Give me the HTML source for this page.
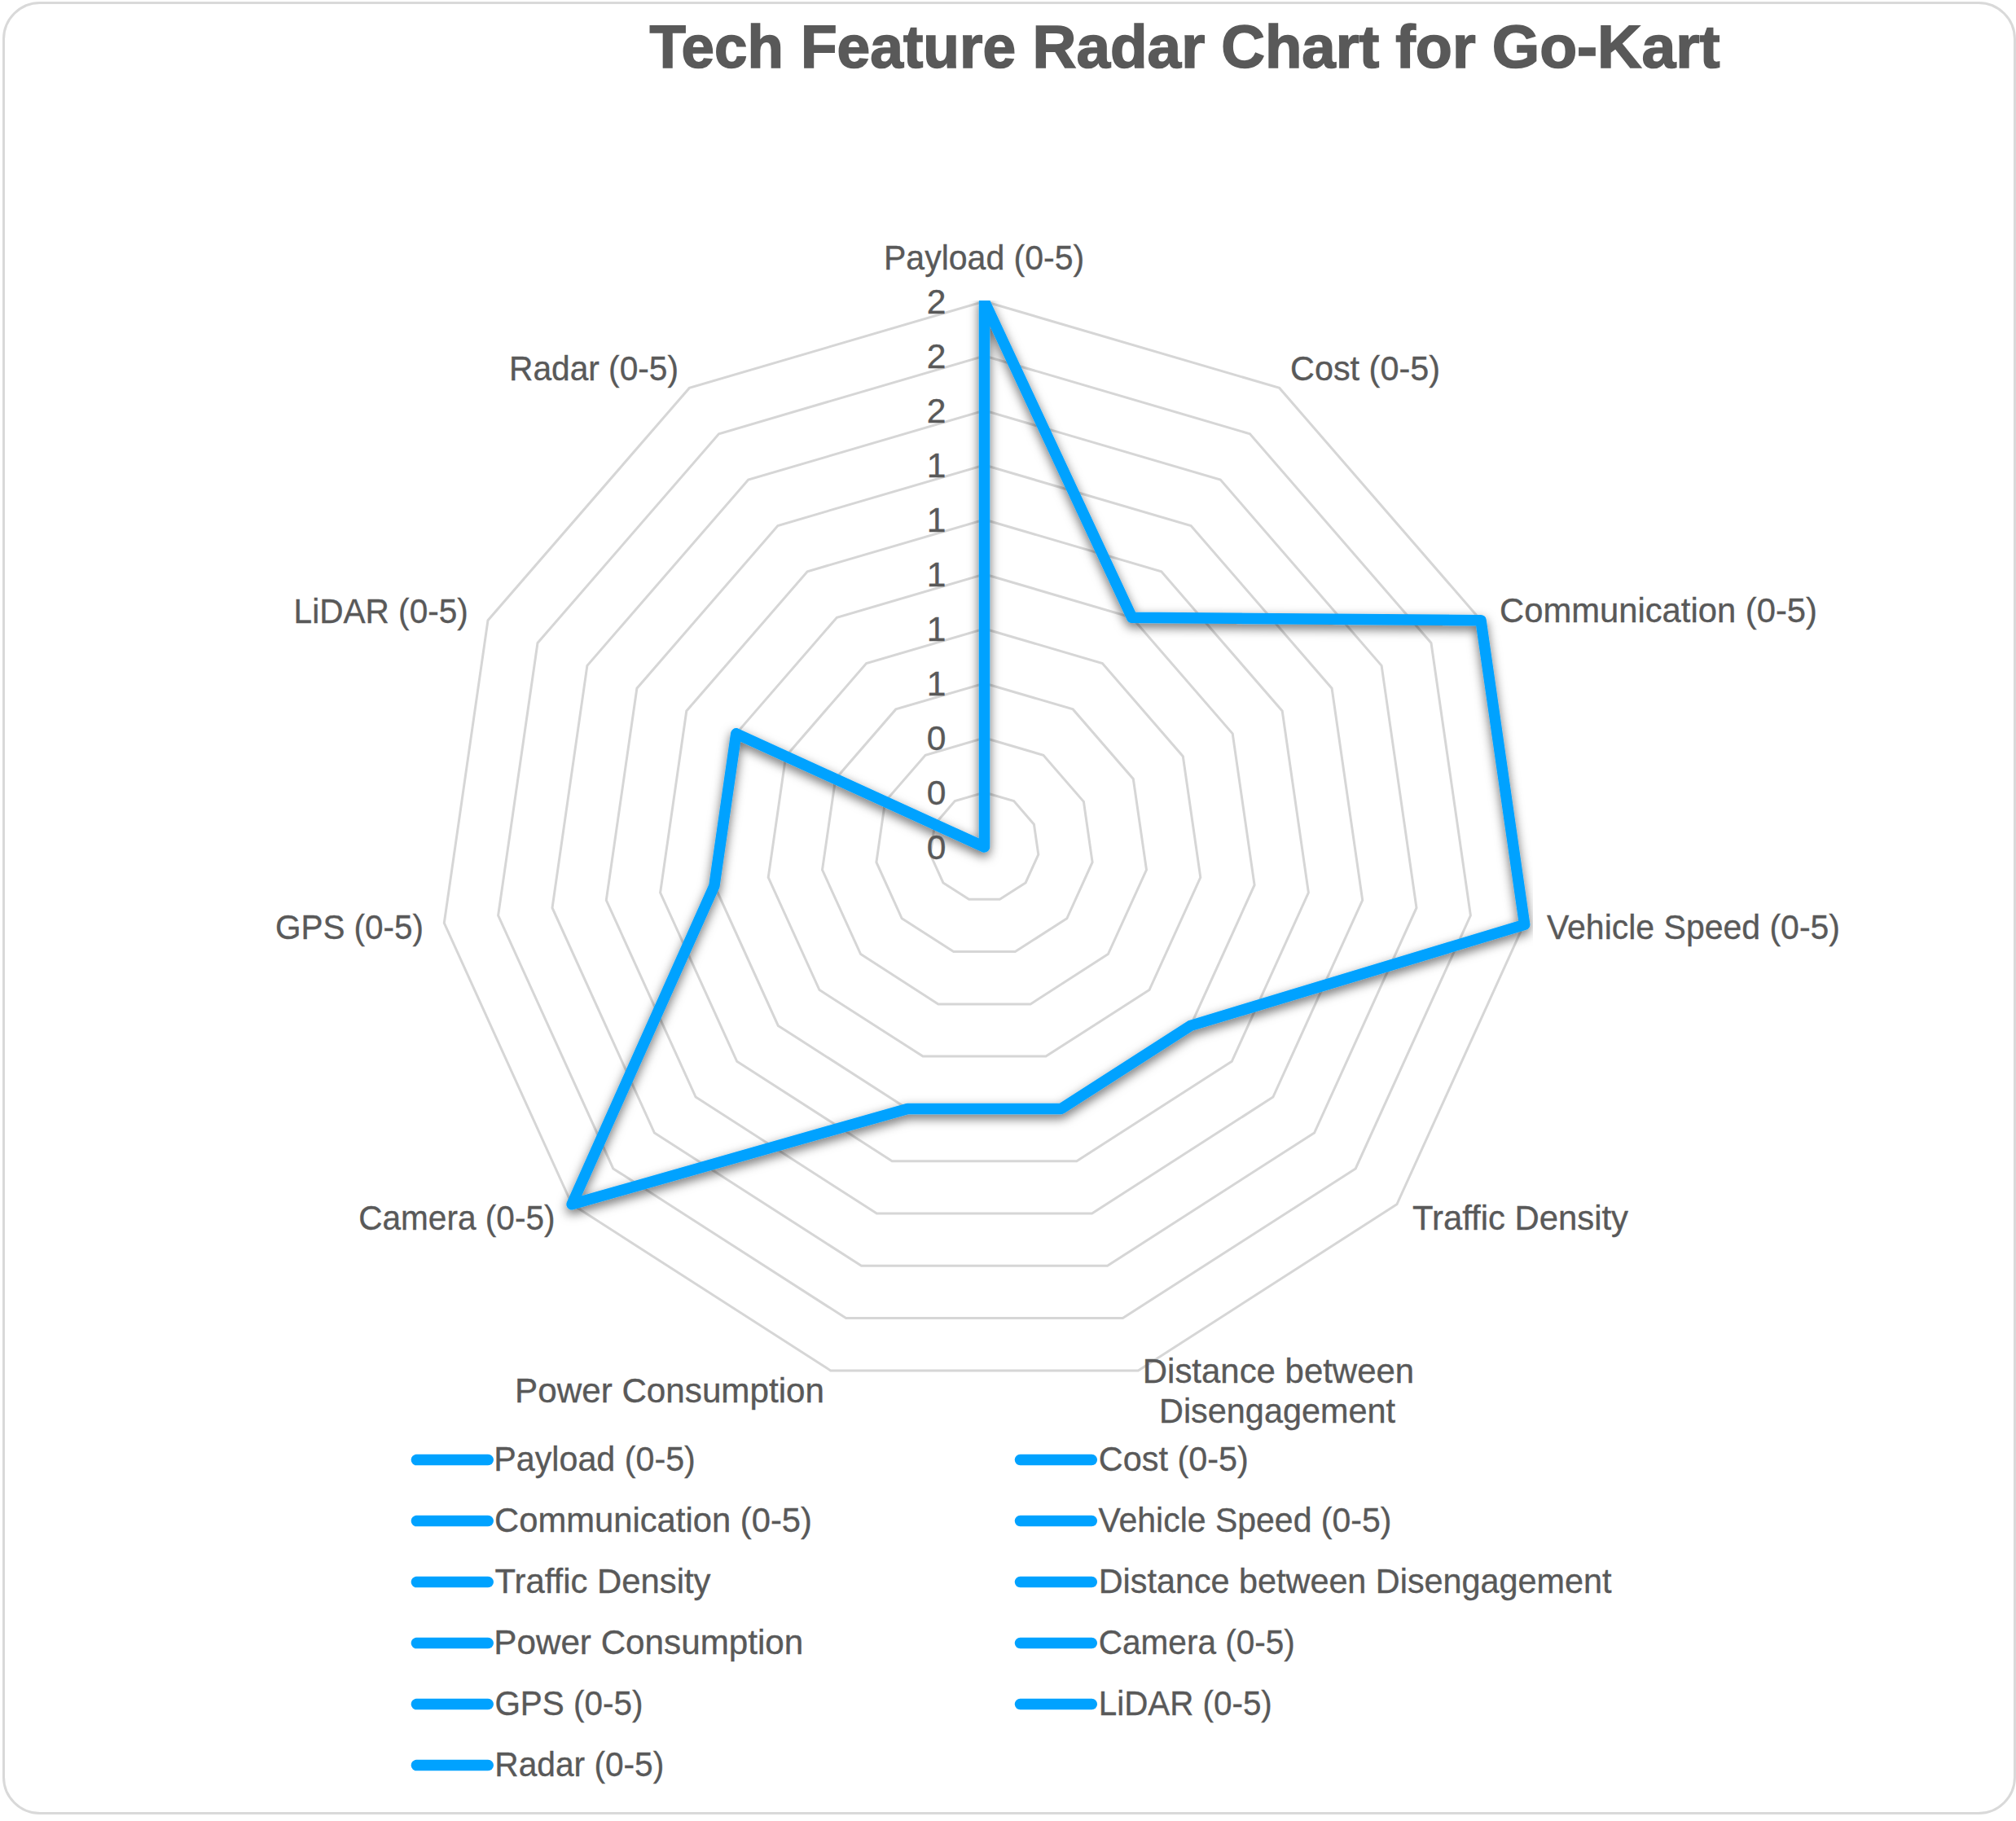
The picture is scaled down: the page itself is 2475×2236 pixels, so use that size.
<!DOCTYPE html>
<html lang="en"><head><meta charset="utf-8"><title>Tech Feature Radar Chart for Go-Kart</title>
<style>
html,body{margin:0;padding:0;background:#fff;}
body{width:2475px;height:2236px;overflow:hidden;position:relative;font-family:"Liberation Sans",sans-serif;}
.frame{position:absolute;left:3px;top:2px;width:2466px;height:2220px;border:3px solid #d9d9d9;border-radius:46px;box-sizing:content-box;}
svg{position:absolute;left:0;top:0;}
text{font-family:"Liberation Sans",sans-serif;fill:#595959;}
.t{font-size:74px;font-weight:bold;stroke:#595959;stroke-width:1.6px;}
.l{font-size:42px;stroke:#595959;stroke-width:0.35px;}
.d{font-size:42.6px;stroke:#595959;stroke-width:0.35px;}
</style></head><body>
<div class="frame"></div>
<svg width="2475" height="2236" viewBox="0 0 2475 2236">
<defs>
<clipPath id="plot"><rect x="535" y="369" width="1347" height="1347"/></clipPath>
<filter id="sh" x="400" y="300" width="1700" height="1500" filterUnits="userSpaceOnUse">
<feGaussianBlur in="SourceAlpha" stdDeviation="6.5"/><feOffset dx="0" dy="5" result="b"/>
<feFlood flood-color="#000" flood-opacity="0.58"/><feComposite in2="b" operator="in"/>
<feMerge><feMergeNode/><feMergeNode in="SourceGraphic"/></feMerge>
</filter>
</defs>
<g clip-path="url(#plot)"><g fill="none" stroke="#d6d6d6" stroke-width="3" stroke-linejoin="miter">
<polygon points="1208.5,973.0 1244.7,983.6 1269.4,1012.2 1274.8,1049.3 1259.1,1083.9 1227.4,1104.3 1189.6,1104.3 1157.9,1083.9 1142.2,1049.3 1147.6,1012.2 1172.3,983.6"/>
<polygon points="1208.5,906.0 1280.9,927.3 1330.4,984.3 1341.1,1058.7 1309.8,1127.8 1246.3,1168.6 1170.7,1168.6 1107.2,1127.8 1075.9,1058.7 1086.6,984.3 1136.1,927.3"/>
<polygon points="1208.5,839.0 1317.2,870.9 1391.3,956.5 1407.5,1068.0 1360.4,1171.6 1265.1,1232.9 1151.9,1232.9 1056.6,1171.6 1009.5,1068.0 1025.7,956.5 1099.8,870.9"/>
<polygon points="1208.5,772.0 1353.4,814.5 1452.3,928.7 1473.8,1077.3 1411.0,1215.5 1284.0,1297.1 1133.0,1297.1 1006.0,1215.5 943.2,1077.3 964.7,928.7 1063.6,814.5"/>
<polygon points="1208.5,705.0 1389.6,758.2 1513.2,900.8 1540.1,1086.7 1461.7,1259.4 1302.9,1361.4 1114.1,1361.4 955.3,1259.4 876.9,1086.7 903.8,900.8 1027.4,758.2"/>
<polygon points="1208.5,638.0 1425.8,701.8 1574.2,873.0 1606.4,1096.0 1512.3,1303.3 1321.8,1425.7 1095.2,1425.7 904.7,1303.3 810.6,1096.0 842.8,873.0 991.2,701.8"/>
<polygon points="1208.5,571.0 1462.1,645.5 1635.1,845.2 1672.7,1105.3 1562.9,1347.1 1340.6,1490.0 1076.4,1490.0 854.1,1347.1 744.3,1105.3 781.9,845.2 954.9,645.5"/>
<polygon points="1208.5,504.0 1498.3,589.1 1696.1,817.3 1739.0,1114.7 1613.6,1391.0 1359.5,1554.3 1057.5,1554.3 803.4,1391.0 678.0,1114.7 720.9,817.3 918.7,589.1"/>
<polygon points="1208.5,437.0 1534.5,532.7 1757.0,789.5 1805.4,1124.0 1664.2,1434.9 1378.4,1618.6 1038.6,1618.6 752.8,1434.9 611.6,1124.0 660.0,789.5 882.5,532.7"/>
<polygon points="1208.5,370.0 1570.7,476.4 1818.0,761.7 1871.7,1133.4 1714.9,1478.8 1397.3,1682.9 1019.7,1682.9 702.1,1478.8 545.3,1133.4 599.0,761.7 846.3,476.4"/>
</g>
<g filter="url(#sh)"><polygon points="1208.5,370.0 1389.6,758.2 1818.0,761.7 1871.7,1135.4 1461.7,1259.4 1302.9,1361.4 1114.1,1361.4 702.1,1478.8 876.9,1087.7 903.8,900.8 1208.5,1040.0" fill="none" stroke="#00a2ff" stroke-width="13.5" stroke-linejoin="round"/></g>
</g>
<g class="d" text-anchor="end">
<text x="1161.5" y="1054.8">0</text>
<text x="1161.5" y="987.9">0</text>
<text x="1161.5" y="920.9">0</text>
<text x="1161.5" y="853.9">1</text>
<text x="1161.5" y="786.9">1</text>
<text x="1161.5" y="719.9">1</text>
<text x="1161.5" y="652.9">1</text>
<text x="1161.5" y="585.9">1</text>
<text x="1161.5" y="518.9">2</text>
<text x="1161.5" y="451.9">2</text>
<text x="1161.5" y="384.9">2</text>
</g>
<g stroke="#00a2ff" stroke-width="13.5" stroke-linecap="round">
<line x1="511.4" y1="1792.6" x2="599.2" y2="1792.6"/>
<line x1="511.4" y1="1867.6" x2="599.2" y2="1867.6"/>
<line x1="511.4" y1="1942.6" x2="599.2" y2="1942.6"/>
<line x1="511.4" y1="2017.6" x2="599.2" y2="2017.6"/>
<line x1="511.4" y1="2092.6" x2="599.2" y2="2092.6"/>
<line x1="511.4" y1="2167.6" x2="599.2" y2="2167.6"/>
<line x1="1252.5" y1="1792.6" x2="1340.3" y2="1792.6"/>
<line x1="1252.5" y1="1867.6" x2="1340.3" y2="1867.6"/>
<line x1="1252.5" y1="1942.6" x2="1340.3" y2="1942.6"/>
<line x1="1252.5" y1="2017.6" x2="1340.3" y2="2017.6"/>
<line x1="1252.5" y1="2092.6" x2="1340.3" y2="2092.6"/>
</g>
<g>
<text class="t" y="83.4"><tspan x="797.6" textLength="164.3" lengthAdjust="spacingAndGlyphs">Tech</tspan> <tspan x="982.9" textLength="264.3" lengthAdjust="spacingAndGlyphs">Feature</tspan> <tspan x="1267.6" textLength="211.6" lengthAdjust="spacingAndGlyphs">Radar</tspan> <tspan x="1499.2" textLength="194.2" lengthAdjust="spacingAndGlyphs">Chart</tspan> <tspan x="1713.3" textLength="98.3" lengthAdjust="spacingAndGlyphs">for</tspan> <tspan x="1831.7" textLength="279.8" lengthAdjust="spacingAndGlyphs">Go-Kart</tspan></text>
<text class="l" x="1085.0" y="331.0" textLength="246.2" lengthAdjust="spacingAndGlyphs">Payload (0-5)</text>
<text class="l" x="1584.0" y="466.5" textLength="184.0" lengthAdjust="spacingAndGlyphs">Cost (0-5)</text>
<text class="l" x="1841.0" y="764.0" textLength="390.0" lengthAdjust="spacingAndGlyphs">Communication (0-5)</text>
<text class="l" x="1899.0" y="1152.5" textLength="360.0" lengthAdjust="spacingAndGlyphs">Vehicle Speed (0-5)</text>
<text class="l" x="1734.0" y="1510.3" textLength="265.0" lengthAdjust="spacingAndGlyphs">Traffic Density</text>
<text class="l" x="1402.8" y="1697.7" textLength="333.3" lengthAdjust="spacingAndGlyphs">Distance between</text>
<text class="l" x="1423.0" y="1746.5" textLength="290.0" lengthAdjust="spacingAndGlyphs">Disengagement</text>
<text class="l" x="632.1" y="1722.0" textLength="379.9" lengthAdjust="spacingAndGlyphs">Power Consumption</text>
<text class="l" x="440.2" y="1510.0" textLength="241.3" lengthAdjust="spacingAndGlyphs">Camera (0-5)</text>
<text class="l" x="338.0" y="1153.0" textLength="182.0" lengthAdjust="spacingAndGlyphs">GPS (0-5)</text>
<text class="l" x="360.6" y="764.6" textLength="214.2" lengthAdjust="spacingAndGlyphs">LiDAR (0-5)</text>
<text class="l" x="625.0" y="467.0" textLength="208.0" lengthAdjust="spacingAndGlyphs">Radar (0-5)</text>
<text class="l" x="606.3" y="1805.9" textLength="247.5" lengthAdjust="spacingAndGlyphs">Payload (0-5)</text>
<text class="l" x="607.0" y="1880.9" textLength="390.0" lengthAdjust="spacingAndGlyphs">Communication (0-5)</text>
<text class="l" x="607.5" y="1955.9" textLength="265.0" lengthAdjust="spacingAndGlyphs">Traffic Density</text>
<text class="l" x="606.3" y="2030.9" textLength="380.0" lengthAdjust="spacingAndGlyphs">Power Consumption</text>
<text class="l" x="607.4" y="2105.9" textLength="182.0" lengthAdjust="spacingAndGlyphs">GPS (0-5)</text>
<text class="l" x="607.3" y="2180.9" textLength="208.0" lengthAdjust="spacingAndGlyphs">Radar (0-5)</text>
<text class="l" x="1348.8" y="1805.9" textLength="184.0" lengthAdjust="spacingAndGlyphs">Cost (0-5)</text>
<text class="l" x="1348.4" y="1880.9" textLength="360.0" lengthAdjust="spacingAndGlyphs">Vehicle Speed (0-5)</text>
<text class="l" x="1348.7" y="1955.9" textLength="629.8" lengthAdjust="spacingAndGlyphs">Distance between Disengagement</text>
<text class="l" x="1348.8" y="2030.9" textLength="241.0" lengthAdjust="spacingAndGlyphs">Camera (0-5)</text>
<text class="l" x="1348.8" y="2105.9" textLength="213.0" lengthAdjust="spacingAndGlyphs">LiDAR (0-5)</text>
</g>
</svg>
</body></html>
